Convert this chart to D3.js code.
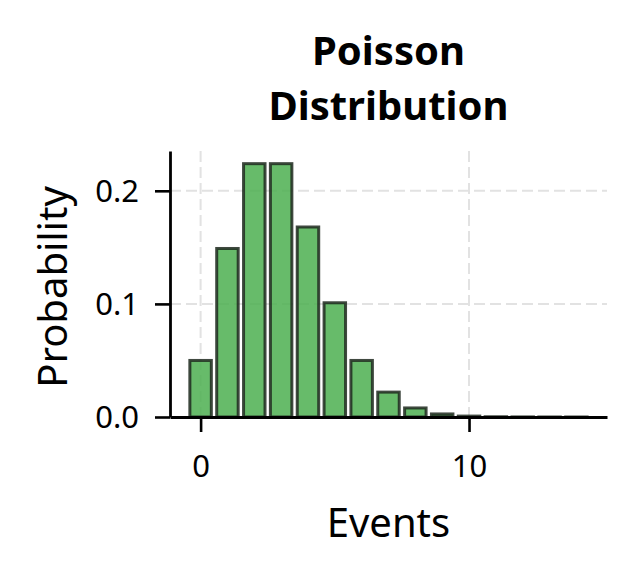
<!DOCTYPE html>
<html>
<head>
<meta charset="utf-8">
<script src="https://cdn.jsdelivr.net/npm/d3@7"></script>
<style>
body { margin: 0; background: #fff; }
text { font-family: "Noto Sans", sans-serif; fill: #000; }
.axis path, .axis line { stroke: #000; }
.grid line { stroke: #e2e2e2; stroke-dasharray: 11,5; }
</style>
</head>
<body>
<div id="chart"></div>
<script>
// events k = 0..14 and their probabilities
const events = [0, 1, 2, 3, 4, 5, 6, 7, 8, 9, 10, 11, 12, 13, 14];
const probs = [0.050, 0.149, 0.224, 0.224, 0.168, 0.101, 0.050, 0.022, 0.008, 0.0027, 0.0008, 0.0002, 0.00006, 0.00001, 0.000003];
const xTicks = [0, 10];
const yTicks = [0.0, 0.1, 0.2];

const data = events.map((k, i) => ({k: k, p: probs[i]}));

const width = 634, height = 574;
const margin = {top: 151, right: 27, bottom: 157, left: 170};
const w = width - margin.left - margin.right,
    h = height - margin.top - margin.bottom;

const svg = d3.select('#chart').append('svg')
    .attr('width', width)
    .attr('height', height);

const g = svg.append('g')
    .attr('transform', `translate(${margin.left}, ${margin.top})`);

const barW = 0.8;
const xPad = (events[events.length - 1] - events[0] + barW) * 0.05;
const xScale = d3.scaleLinear()
    .domain([events[0] - barW / 2 - xPad, events[events.length - 1] + barW / 2 + xPad])
    .range([0, w]);

const yScale = d3.scaleLinear()
    .domain([0, d3.max(probs) * 1.05])
    .range([h, 0]);

// grid
g.append('g').attr('class', 'grid')
    .selectAll('line.gx').data(xTicks).enter().append('line')
    .attr('x1', d => xScale(d)).attr('x2', d => xScale(d))
    .attr('y1', 0).attr('y2', h)
    .attr('stroke-width', 2);
g.append('g').attr('class', 'grid')
    .selectAll('line.gy').data(yTicks.slice(1)).enter().append('line')
    .attr('x1', 0).attr('x2', w)
    .attr('y1', d => yScale(d)).attr('y2', d => yScale(d))
    .attr('stroke-width', 2);

// bars
g.selectAll('rect.bar')
    .data(data)
    .enter()
    .append('rect')
    .attr('class', 'bar')
    .attr('x', d => xScale(d.k - barW / 2))
    .attr('width', xScale(barW) - xScale(0))
    .attr('y', d => yScale(d.p))
    .attr('height', d => yScale(0) - yScale(d.p))
    .attr('fill', '#4caf50')
    .attr('fill-opacity', 0.85)
    .attr('stroke', '#1f291f')
    .attr('stroke-opacity', 0.85)
    .attr('stroke-width', 3);

// axes
const xAxis = d3.axisBottom(xScale)
    .tickValues(xTicks)
    .tickFormat(d3.format('d'))
    .tickSize(15)
    .tickPadding(8)
    .tickSizeOuter(0);

const xAxisGroup = g.append('g')
    .attr('class', 'axis x-axis')
    .attr('transform', `translate(0, ${h})`)
    .call(xAxis);

const yAxis = d3.axisLeft(yScale)
    .tickValues(yTicks)
    .tickFormat(d3.format('.1f'))
    .tickSize(15)
    .tickPadding(16)
    .tickSizeOuter(0);

const yAxisGroup = g.append('g')
    .attr('class', 'axis y-axis')
    .call(yAxis);

g.selectAll('.axis path').attr('stroke-width', 2.8);
g.selectAll('.axis line').attr('stroke-width', 2.6);
g.selectAll('.axis text').style('font-size', '31px').attr('fill', '#000');
xAxisGroup.selectAll('text').attr('y', 0).attr('dy', 0)
    .attr('transform', 'translate(0, 60)');
yAxisGroup.selectAll('text').attr('dy', '0.35em');

// labels
svg.append('text')
    .attr('x', margin.left + w / 2)
    .attr('y', 537)
    .attr('text-anchor', 'middle')
    .style('font-size', '40px')
    .text('Events');

svg.append('text')
    .attr('transform', `translate(67, ${margin.top + h / 2 + 3}) rotate(-90)`)
    .attr('text-anchor', 'middle')
    .style('font-size', '40px')
    .text('Probability');

const title = svg.append('text')
    .attr('text-anchor', 'middle')
    .style('font-size', '40px')
    .style('font-weight', 'bold');
title.append('tspan').attr('x', margin.left + w / 2).attr('y', 65).text('Poisson');
title.append('tspan').attr('x', margin.left + w / 2).attr('y', 120).text('Distribution');
</script>
</body>
</html>
